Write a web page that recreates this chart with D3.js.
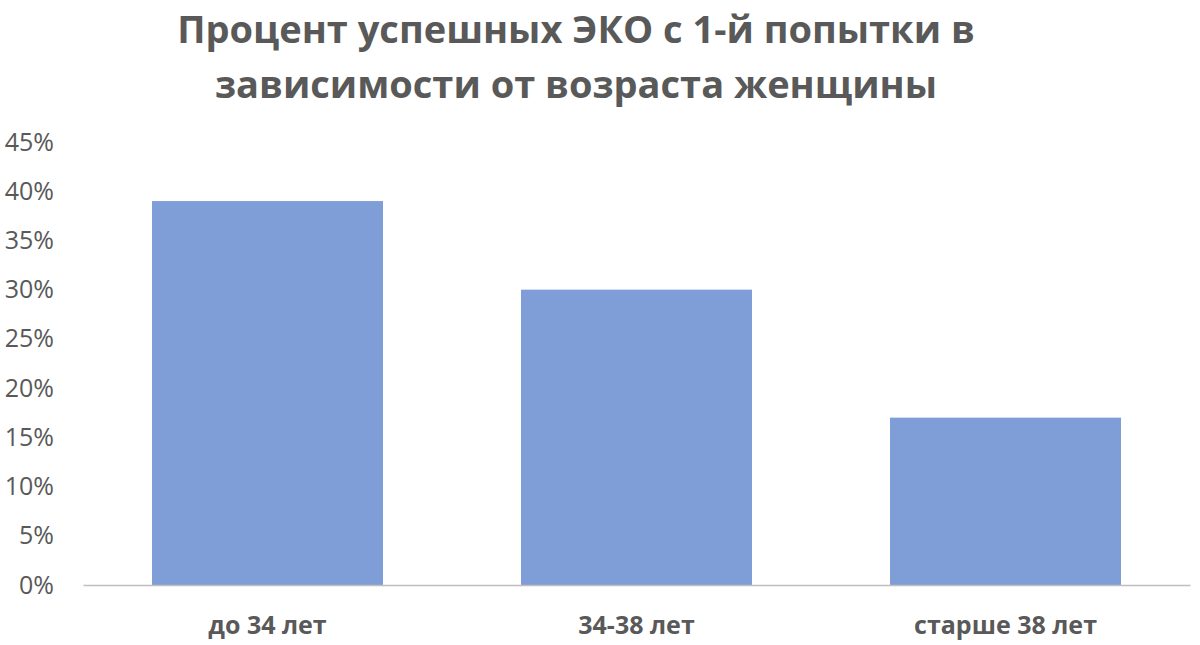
<!DOCTYPE html>
<html>
<head>
  <meta charset="utf-8" />
  <title>Процент успешных ЭКО</title>
  <script src="https://d3js.org/d3.v7.min.js"></script>
  <style>
    body { margin: 0; background: #fff; }
    text { font-family: "Open Sans", "DejaVu Sans", sans-serif; fill: #595959; }
  </style>
</head>
<body>
  <div id="chart"></div>
  <script>
    // data
    var categories = ["до 34 лет", "34-38 лет", "старше 38 лет"];
    var values = [0.39, 0.30, 0.17];
    var yTicks = [0, 0.05, 0.10, 0.15, 0.20, 0.25, 0.30, 0.35, 0.40, 0.45];
    var titleLines = ["Процент успешных ЭКО с 1-й попытки в", "зависимости от возраста женщины"];

    var width = 1200, height = 645;
    var margin = { top: 142, right: 10, bottom: 60, left: 83 };

    var svg = d3.select("#chart").append("svg")
      .attr("width", width)
      .attr("height", height);

    var x = d3.scaleBand()
      .domain(categories)
      .range([margin.left, width - margin.right])
      .paddingInner(0.374)
      .paddingOuter(0.187);

    var y = d3.scaleLinear()
      .domain([0, 0.45])
      .range([height - margin.bottom, margin.top]);

    /* title */
    svg.append("g").selectAll("text")
      .data(titleLines)
      .enter().append("text")
      .attr("x", 576)
      .attr("y", function (d, i) { return 43 + i * 55; })
      .attr("text-anchor", "middle")
      .style("font-size", "38px")
      .style("font-weight", "bold")
      .text(function (d) { return d; });

    /* bars */
    svg.append("g").selectAll("rect")
      .data(values)
      .enter().append("rect")
      .attr("x", function (d, i) { return x(categories[i]); })
      .attr("width", x.bandwidth())
      .attr("y", function (d) { return y(d); })
      .attr("height", function (d) { return y(0) - y(d); })
      .style("fill", "#7F9DD7");

    /* y axis labels, no line */
    var yAxis = d3.axisLeft(y)
      .tickValues(yTicks)
      .tickSize(0)
      .tickPadding(0)
      .tickFormat(d3.format(".0%"));

    var gy = svg.append("g")
      .attr("transform", "translate(54,0)")
      .call(yAxis);
    gy.select(".domain").remove();
    gy.selectAll("text")
      .style("font-size", "25px")
      .style("fill", "#595959")
      .style("font-family", "\"Open Sans\", sans-serif");

    /* x axis */
    var xAxis = d3.axisBottom(x).tickSize(0).tickPadding(0);
    var gx = svg.append("g")
      .attr("transform", "translate(0," + y(0) + ")")
      .call(xAxis);
    gx.select(".domain")
      .attr("stroke", "#BFBFBF")
      .attr("stroke-width", 1.5);
    gx.selectAll("text")
      .attr("dy", 0)
      .attr("y", 49)
      .style("font-size", "25px")
      .style("font-weight", "bold")
      .style("fill", "#595959")
      .style("font-family", "\"Open Sans\", sans-serif");
  </script>
</body>
</html>
